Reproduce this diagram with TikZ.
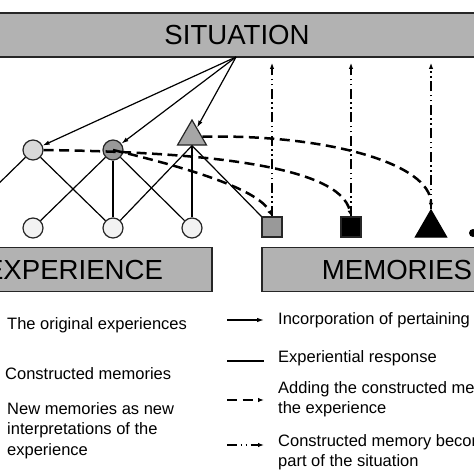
\documentclass[tikz,border=0pt]{standalone}
\usepackage{fontspec}
\setmainfont{Liberation Sans}
\usetikzlibrary{arrows.meta,shapes.geometric}

\begin{document}
\begin{tikzpicture}[x=1pt,y=-1pt,
    box/.style={draw=black!85,line width=1.8pt,fill=black!30,minimum height=44pt,
      inner sep=0pt,font=\fontsize{27.6}{33}\selectfont},
    unit/.style={circle,draw=black!85,line width=1.2pt,minimum size=20pt,inner sep=0pt},
    memo/.style={draw=black!85,line width=1.2pt,minimum size=20pt,inner sep=0pt},
    tri/.style={regular polygon,regular polygon sides=3,draw=black!85,line width=1.2pt,inner sep=0pt},
    resp/.style={line width=1.2pt},
    incorp/.style={line width=1.2pt,-{Latex[length=7pt,width=4.5pt]}},
    adding/.style={line width=2.5pt,dash pattern=on 10pt off 5.5pt,-{Latex[length=6pt,width=4.5pt]}},
    becomes/.style={line width=1.5pt,dash pattern=on 10pt off 3.5pt on 1.5pt off 3.5pt on 1.5pt off 3.5pt,
      -{Latex[length=6pt,width=4.5pt]}},
    legend/.style={anchor=west,align=left,inner sep=0pt,font=\fontsize{16.5}{20.5}\selectfont}]
      \useasboundingbox (0,0) rectangle (474,474);
      \clip (0,0) rectangle (474,474);
      % boxes
      \node[box,minimum width=520pt] (sit) at (237,35) {SITUATION};
      \node[box,minimum width=276pt] (exp) at (74,269.5) {EXPERIENCE};
      \node[box,minimum width=270pt] (mem) at (397,269.5) {MEMORIES};
      \coordinate (apex) at (236,57);
      % experience network
      \node[unit,fill=black!15] (lc) at (33,150) {};
      \node[unit,fill=black!40] (mc) at (113,150) {};
      \node[tri,fill=black!35,minimum size=33.4pt] (tr) at (192,136.7) {};
      \node[unit,fill=black!5] (bl) at (33,228) {};
      \node[unit,fill=black!5] (bm) at (113,228) {};
      \node[unit,fill=black!5] (br) at (192,228) {};
      \coordinate (offl) at (-12,194);
      % memories
      \node[memo,fill=black!40] (gsq) at (272,227) {};
      \node[memo,fill=black] (bsq) at (351,227) {};
      \node[tri,fill=black,draw=black,minimum size=36pt] (btr) at (431,228) {};
      \node[circle,fill=black,minimum size=8pt,inner sep=0pt] (dot) at (473,233) {};
      % experiential responses
      \draw[resp] (lc) -- (offl);
      \draw[resp] (lc) -- (bm);
      \draw[resp] (mc) -- (bl);
      \draw[resp] (mc) -- (bm);
      \draw[resp] (mc) -- (br);
      \draw[resp] (tr.south) -- (bm);
      \draw[resp] (tr.south) -- (br);
      \draw[resp] (tr.south) -- (gsq.north west);
      % incorporation
      \draw[incorp] (apex) -- (lc);
      \draw[incorp] (apex) -- (mc);
      \draw[incorp] (apex) -- (tr);
      % adding memories
      \draw[adding] (tr.east) .. controls (325,134) and (431,163) .. (btr.north);
      \draw[adding] (lc.east) .. controls (200,152) and (340,165) .. (bsq.north);
      \draw[adding] (mc.center) .. controls (180,166) and (258,188) .. (gsq.north);
      % memories become situation
      \draw[becomes] (gsq.north) -- ([yshift=-5pt]gsq.north |- sit.south);
      \draw[becomes] (bsq.north) -- ([yshift=-5pt]bsq.north |- sit.south);
      \draw[becomes] (btr.north) -- ([yshift=-5pt]btr.north |- sit.south);
      % legend
      \node[legend] (l1) at (7,325) {The original experiences};
      \node[legend] (l2) at (5,374) {Constructed memories};
      \node[legend] (l3) at (7,430.5) {New memories as new\\interpretations of the\\experience};
      \coordinate (a1) at (227,320); \coordinate (b1) at (264,320);
      \coordinate (a2) at (227,361); \coordinate (b2) at (264,361);
      \coordinate (a3) at (227,400); \coordinate (b3) at (264,400);
      \coordinate (a4) at (227,445); \coordinate (b4) at (264,445);
      \draw[incorp] (a1) -- (b1);
      \draw[resp] (a2) -- (b2);
      \draw[adding] (a3) -- (b3);
      \draw[becomes] (a4) -- (b4);
      \node[legend] (r1) at (278,320) {Incorporation of pertaining};
      \node[legend] (r2) at (278,358) {Experiential response};
      \node[legend] (r3) at (278,399) {Adding the constructed memory to\\the experience};
      \node[legend] (r4) at (278,452) {Constructed memory becomes\\part of the situation};
    \end{tikzpicture}
\end{document}
